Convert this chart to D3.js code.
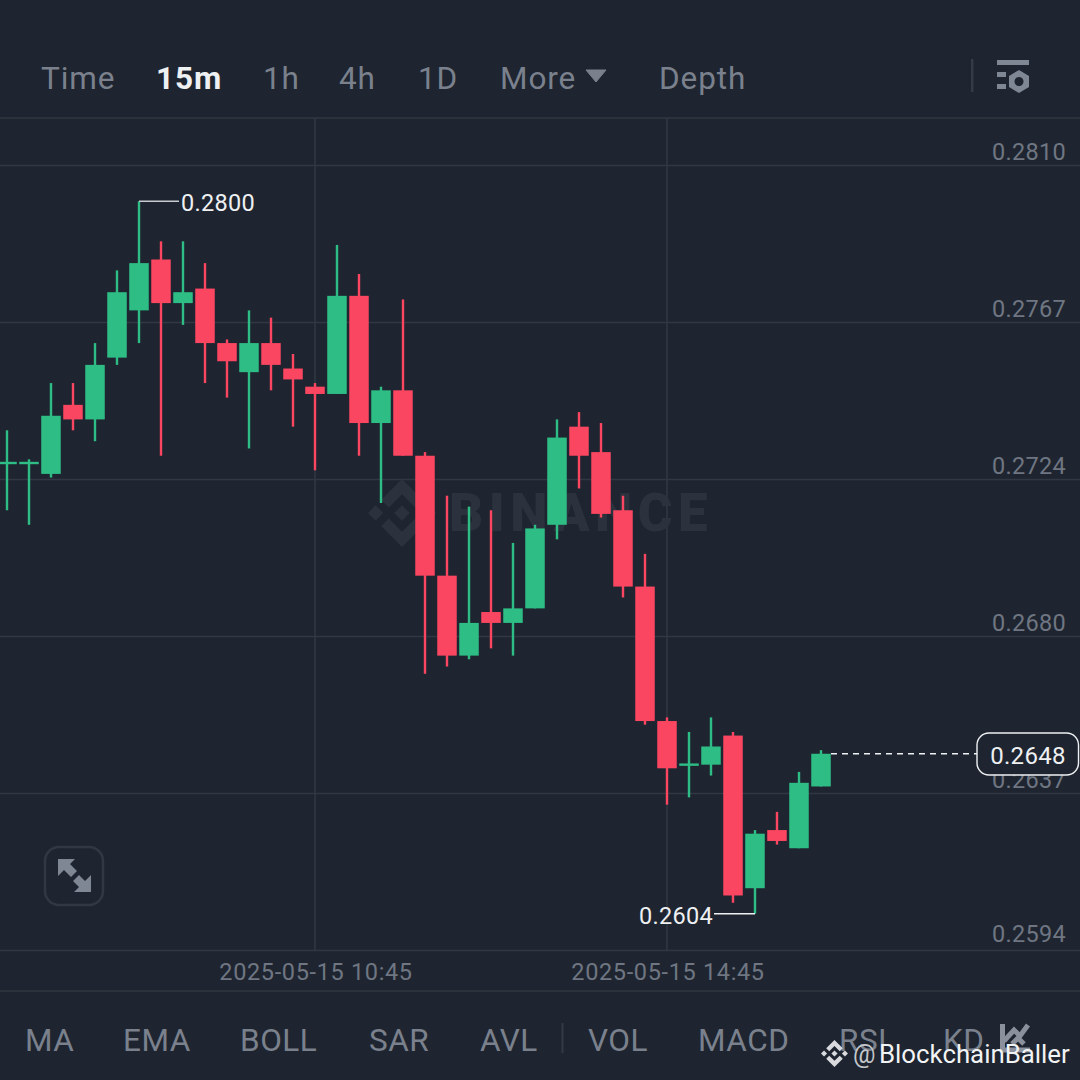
<!DOCTYPE html>
<html><head><meta charset="utf-8">
<script src="https://cdn.jsdelivr.net/npm/d3@7"></script>
<style>html,body{margin:0;padding:0;background:#1e2530}svg{display:block}text{font-family:Roboto,sans-serif}</style>
</head><body><svg id="c" width="1080" height="1080"></svg>
<script>
// ---- data (15m candles) ----
const opens  = [.2728,.2728,.2725,.2744,.2740,.2757,.2770,.2784,.2772,.2776,.2761,.2753,.2761,.2754,.2749,.2747,.2774,.2739,.2748,.2730,.2697,.2675,.2687,.2684,.2688,.2711,.2738,.2731,.2715,.2694,.2657,.2645,.2645,.2653,.2611,.2627,.2622,.2639];
const closes = [.2728,.2728,.2741,.2740,.2755,.2775,.2783,.2772,.2775,.2761,.2756,.2761,.2755,.2751,.2747,.2774,.2739,.2748,.2730,.2697,.2675,.2684,.2684,.2688,.2710,.2735,.2730,.2714,.2694,.2657,.2644,.2645,.2650,.2609,.2626,.2624,.2640,.2648];
const highs  = [.2737,.2729,.2750,.2750,.2761,.2781,.2800,.2789,.2789,.2783,.2762,.2770,.2768,.2758,.2750,.2788,.2780,.2749,.2773,.2731,.2719,.2716,.2715,.2706,.2711,.2740,.2742,.2739,.2719,.2703,.2658,.2654,.2658,.2654,.2627,.2632,.2643,.2649];
const lows   = [.2715,.2711,.2724,.2737,.2734,.2755,.2761,.2730,.2766,.2750,.2746,.2732,.2748,.2738,.2726,.2747,.2730,.2717,.2730,.2670,.2672,.2674,.2677,.2675,.2688,.2707,.2721,.2713,.2691,.2656,.2634,.2636,.2642,.2607,.2604,.2623,.2622,.2639];
const priceTicks = [.2810,.27668,.27236,.26804,.26372,.2594];
const timeTickIndex = [14,30];
const timeTickLabels = ["2025-05-15 10:45","2025-05-15 14:45"];
const maxPrice = .2800, minPrice = .2604, lastPrice = .2648;
const topTabs = ["Time","15m","1h","4h","1D","More","Depth"];
const bottomTabs = ["MA","EMA","BOLL","SAR","AVL","VOL","MACD","RSI","KD"];
// ---- layout ----
const topTabX = [41,156,263,339,418,500,659];
const bottomTabX = [25,123,240,369,480,588,698,839,943];
const BG="#1e2530",GRID="#313843",GREEN="#2ebd85",RED="#fb4661",AXIS="#6f7682",TAB="#7a818d",WHITE="#eef0f2",WM="#2b323d";
const LOGO=["m38.73 53.2 24.59-24.58 24.6 24.6 14.3-14.31L63.32 0 24.42 38.9z","m0 63.31 14.3-14.31 14.31 14.31-14.31 14.3z","m38.73 73.41 24.59 24.59 24.6-24.6 14.31 14.29-38.9 38.91-38.91-38.88z","m98 63.31 14.3-14.31 14.31 14.3-14.31 14.32z","m77.83 63.3-14.51-14.52-10.73 10.73-1.24 1.23-2.54 2.54 14.51 14.5 14.51-14.47z"];

const svg=d3.select("#c");
svg.append("rect").attr("width",1080).attr("height",1080).attr("fill",BG);
const x=d3.scaleLinear().domain([0,37]).range([7,821]);
const y=d3.scaleLinear().domain([.2594,.2810]).range([950,165]);
const bodyW=19.5;

// frame lines
[118,991].forEach(v=>svg.append("line").attr("x1",0).attr("x2",1080).attr("y1",v).attr("y2",v).attr("stroke","#2b323c").attr("stroke-width",2));

// vertical grid + time axis
const xAxis=d3.axisBottom(x).tickValues(timeTickIndex).tickFormat((d,i)=>timeTickLabels[i]).tickSize(-832).tickPadding(10);
const gx=svg.append("g").attr("transform","translate(-0.5,950)").call(xAxis);
gx.select(".domain").remove();
gx.selectAll("line").attr("stroke",GRID).attr("stroke-width",1.5);
gx.selectAll("text").attr("fill",AXIS).attr("font-size",23.5).attr("letter-spacing",.65).attr("x",1).attr("y",22).attr("dy","0.35em");

// horizontal grid + price axis
const yAxis=d3.axisLeft(y).tickValues(priceTicks).tickFormat(d3.format(".4f")).tickSize(1080);
const gy=svg.append("g").attr("transform","translate(1080,0)").call(yAxis);
gy.select(".domain").remove();
gy.selectAll("line").attr("stroke",GRID).attr("stroke-width",1.5);
gy.selectAll("text").attr("fill",AXIS).attr("font-size",23.5).attr("letter-spacing",.3).attr("text-anchor","end").attr("x",-14)
  .attr("dy",(d,i)=>i===priceTicks.length-1?"-0.38em":"-0.25em");

// watermark
const wm=svg.append("g").attr("transform","translate(368,479) scale(.537)");
LOGO.forEach(p=>wm.append("path").attr("d",p).attr("fill",WM));
svg.append("text").attr("x",449).attr("y",531).attr("font-size",53).attr("font-weight",900).attr("letter-spacing",5.5).attr("fill",WM).text("BINANCE");

// candles
const idx=d3.range(opens.length);
const col=i=>closes[i]>=opens[i]?GREEN:RED;
svg.append("g").selectAll("line").data(idx).join("line")
  .attr("x1",x).attr("x2",x).attr("y1",i=>y(highs[i])).attr("y2",i=>y(lows[i]))
  .attr("stroke",col).attr("stroke-width",2.4);
svg.append("g").selectAll("rect").data(idx).join("rect")
  .attr("x",i=>x(i)-bodyW/2).attr("width",bodyW)
  .attr("y",i=>y(Math.max(opens[i],closes[i]))-(opens[i]===closes[i]?1.2:0))
  .attr("height",i=>Math.max(2.4,Math.abs(y(opens[i])-y(closes[i]))))
  .attr("fill",col);

// high / low annotations
const iHi=highs.indexOf(maxPrice), iLo=lows.indexOf(minPrice);
svg.append("line").attr("x1",x(iHi)).attr("x2",x(iHi)+40).attr("y1",y(maxPrice)).attr("y2",y(maxPrice)).attr("stroke","#c8ccd0").attr("stroke-width",1.5);
svg.append("text").attr("x",x(iHi)+42).attr("y",y(maxPrice)+1).attr("dy","0.35em").attr("fill",WHITE).attr("font-size",23.5).attr("letter-spacing",.3).text(d3.format(".4f")(maxPrice));
svg.append("line").attr("x1",x(iLo)).attr("x2",x(iLo)-41).attr("y1",y(minPrice)).attr("y2",y(minPrice)).attr("stroke",WHITE).attr("stroke-width",1.5);
svg.append("text").attr("x",x(iLo)-42).attr("y",y(minPrice)+2).attr("dy","0.35em").attr("text-anchor","end").attr("fill",WHITE).attr("font-size",23.5).attr("letter-spacing",.3).text(d3.format(".4f")(minPrice));

// last price
const iLast=opens.length-1;
svg.append("line").attr("x1",x(iLast)+10).attr("x2",977).attr("y1",y(lastPrice)).attr("y2",y(lastPrice)).attr("stroke",WHITE).attr("stroke-width",1.4).attr("stroke-dasharray","6 5");
svg.append("rect").attr("x",977).attr("y",733).attr("width",101.5).attr("height",42).attr("rx",12).attr("fill",BG).attr("stroke",WHITE).attr("stroke-width",1.4);
svg.append("text").attr("x",1028).attr("y",755).attr("dy","0.36em").attr("text-anchor","middle").attr("fill",WHITE).attr("font-size",24).attr("letter-spacing",.3).text(d3.format(".4f")(lastPrice));

// top tabs
svg.append("g").selectAll("text").data(topTabs).join("text")
  .attr("x",(d,i)=>topTabX[i]).attr("y",78).attr("dy","0.36em").attr("font-size",31.5)
  .attr("letter-spacing",.9)
  .attr("fill",d=>d==="15m"?WHITE:TAB).attr("font-weight",d=>d==="15m"?700:400).text(d=>d);
svg.append("path").attr("d","M586 70H606L596 82Z").attr("fill",TAB).attr("stroke",TAB).attr("stroke-width",1).attr("stroke-linejoin","round");
svg.append("rect").attr("x",971).attr("y",59).attr("width",2.5).attr("height",33).attr("fill","#343b45");
const ICON="#7f8694";
[[997,60,32,5],[997,72,9,5],[997,84,9,5]].forEach(r=>svg.append("rect").attr("x",r[0]).attr("y",r[1]).attr("width",r[2]).attr("height",r[3]).attr("fill",ICON));
svg.append("path").attr("fill-rule","evenodd").attr("fill",ICON)
  .attr("d","M1019 70L1029 76V87L1019 93L1009 87V76ZM1019 77a4.5 4.5 0 1 0 .01 0Z");

// expand button
svg.append("rect").attr("x",45).attr("y",847).attr("width",58).attr("height",58).attr("rx",14).attr("fill","none").attr("stroke","#323843").attr("stroke-width",2.5);
svg.append("path").attr("fill",ICON).attr("d","M58 859H75L70 864L77 871L71 877L64 870L58 876ZM91 892H74L79 887L73 881L79 875L85 881L91 875Z");

// bottom tabs
svg.append("g").selectAll("text").data(bottomTabs).join("text")
  .attr("x",(d,i)=>bottomTabX[i]).attr("y",1040).attr("dy","0.36em").attr("font-size",31.5).attr("letter-spacing",.5)
  .attr("fill",TAB).text(d=>d);
svg.append("rect").attr("x",561.5).attr("y",1023).attr("width",2).attr("height",30).attr("fill","#343b45");
svg.append("path").attr("fill","none").attr("stroke","#8a909c").attr("stroke-width",5)
  .attr("d","M1002.5 1024V1050H1030M1004 1041L1014 1030L1020 1036L1028 1025M1012 1044L1018 1038L1024 1044");

// source watermark
const sl=svg.append("g").attr("transform","translate(821,1040) scale(.213)");
LOGO.forEach(p=>sl.append("path").attr("d",p).attr("fill","#d8dadd"));
svg.append("text").attr("x",853).attr("y",1054).attr("dy","0.36em").attr("font-family","'Noto Sans'").attr("font-size",25).attr("fill","#c4c7cb").text("@");
svg.append("text").attr("x",879).attr("y",1054).attr("dy","0.36em").attr("font-family","'Noto Sans'").attr("font-size",25.8).attr("fill","#f2f3f4").text("BlockchainBaller");
</script></body></html>
